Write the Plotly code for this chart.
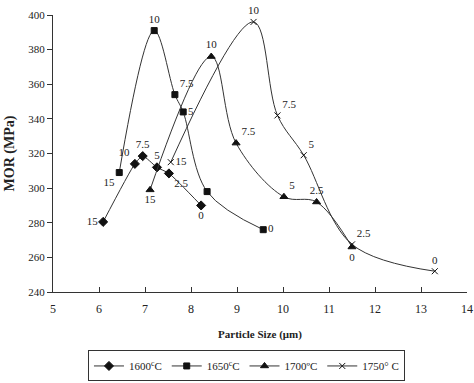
import plotly.graph_objects as go

# Data: particle size (µm), MOR (MPa), point labels
x1600 = [6.09, 6.78, 6.95, 7.26, 7.52, 8.22]
y1600 = [280.5, 314, 318.5, 312, 308.5, 290]
t1600 = ["15", "10", "7.5", "5", "2.5", "0"]

x1650 = [6.44, 7.2, 7.65, 7.83, 8.35, 9.57]
y1650 = [309, 391, 354, 344, 298, 276]
t1650 = ["15", "10", "7.5", "5", "", "0"]

x1700 = [7.11, 8.44, 8.98, 10.02, 10.73, 11.5]
y1700 = [299, 376, 326, 295, 292, 266]
t1700 = ["15", "10", "7.5", "5", "2.5", "0"]

x1750 = [7.56, 9.36, 9.88, 10.45, 11.5, 13.3]
y1750 = [315, 396, 342, 319, 267.5, 252]
t1750 = ["15", "10", "7.5", "5", "2.5", "0"]

x_ticks = [5, 6, 7, 8, 9, 10, 11, 12, 13, 14]
y_ticks = [240, 260, 280, 300, 320, 340, 360, 380, 400]

series = [
    ("1600<sup>c</sup>C", x1600, y1600, t1600, "diamond", 7,
     ["middle left", "top left", "top center", "top center", "bottom right", "bottom center"], 0.6),
    ("1650<sup>c</sup>C", x1650, y1650, t1650, "square", 6,
     ["bottom left", "top center", "top right", "middle right", "top right", "middle right"], 1.0),
    ("1700ºC", x1700, y1700, t1700, "triangle-up", 7,
     ["bottom center", "top center", "top right", "top right", "top center", "bottom center"], 1.0),
    ("1750° C", x1750, y1750, t1750, "x-thin-open", 6,
     ["middle right", "top center", "top right", "top right", "top right", "top center"], 1.0),
]

fig = go.Figure()
for name, xs, ys, ts, sym, sz, pos, sm in series:
    fig.add_trace(go.Scatter(
        x=xs, y=ys, text=ts, name=name,
        mode="lines+markers+text",
        textposition=pos,
        textfont=dict(family="Liberation Serif", size=11, color="#222"),
        line=dict(color="#333", width=1, shape="spline", smoothing=sm),
        marker=dict(symbol=sym, size=sz, color="#111",
                    line=dict(color="#111", width=1)),
        cliponaxis=False,
    ))

fig.update_layout(
    width=474, height=383,
    margin=dict(l=53, r=7, t=15, b=91, autoexpand=False),
    paper_bgcolor="white", plot_bgcolor="white",
    font=dict(family="Liberation Serif", size=11, color="#222"),
    showlegend=True,
    legend=dict(orientation="h", xref="container", yref="container",
                x=0.52, xanchor="center", y=0.085, yanchor="top",
                bordercolor="#333", borderwidth=1,
                font=dict(family="Liberation Serif", size=11, color="#222"),
                itemwidth=30, tracegroupgap=0),
)
fig.update_xaxes(
    range=[5, 14], tickvals=x_ticks, ticks="inside", ticklen=5, tickcolor="#333",
    showline=True, linecolor="#333", linewidth=1, showgrid=False, zeroline=False,
    ticklabelstandoff=6, ticklabeloverflow="allow",
    tickfont=dict(family="Liberation Serif", size=12, color="#222"),
    title=dict(text="<b>Particle Size (μm)</b>", standoff=14,
               font=dict(family="Liberation Serif", size=11, color="#222")),
)
fig.update_yaxes(
    range=[240, 400], tickvals=y_ticks, ticks="outside", ticklen=5, tickcolor="#333",
    showline=True, linecolor="#333", linewidth=1, showgrid=False, zeroline=False,
    tickfont=dict(family="Liberation Serif", size=11, color="#222"),
    title=dict(text="<b>MOR (MPa)</b>", standoff=10,
               font=dict(family="Liberation Serif", size=14, color="#222")),
)

fig.write_html("out.html", config={"displayModeBar": False},
               post_script="document.body.style.margin='0';document.body.style.padding='0';")
